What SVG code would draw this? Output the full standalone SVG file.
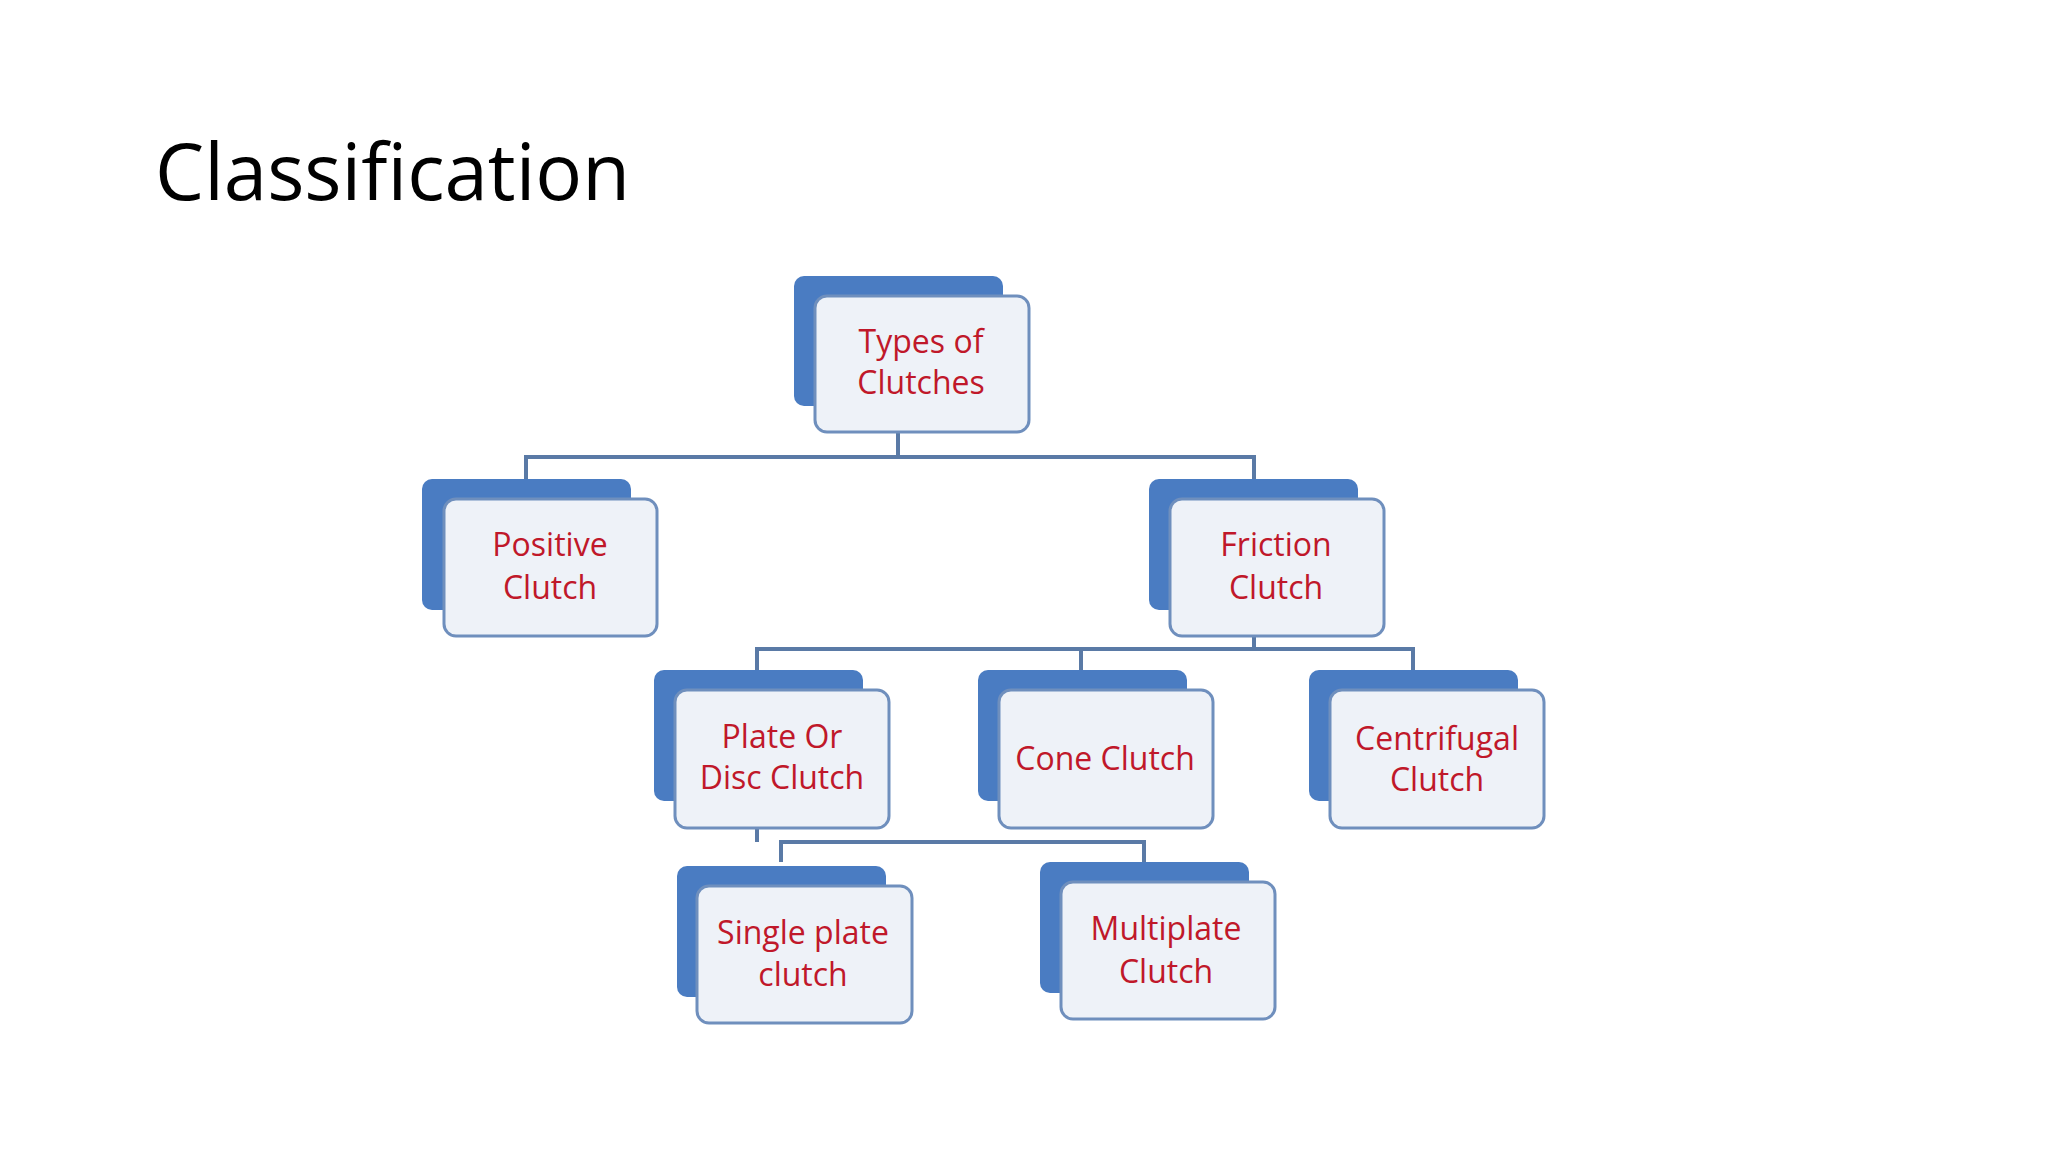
<svg xmlns="http://www.w3.org/2000/svg" width="2048" height="1152" viewBox="0 0 2048 1152">
<style>
.b{fill:#4a7cc2}
.f{fill:#eef2f8;stroke:#6f8fbd;stroke-width:3}
.t{font-family:"Open Sans","Noto Sans",sans-serif;font-size:32px;fill:#c0182a;text-anchor:middle}
.c{fill:none;stroke:#5a7aa6;stroke-width:4}
</style>
<rect width="2048" height="1152" fill="#fff"/>
<text x="155" y="200" font-family="Open Sans,Noto Sans,sans-serif" font-size="78" fill="#000">Classification</text>
<g id="connectors">
<path class="c" d="M898 432V457M526 479V457H1254V479M1254 636V649M757 670V649H1413V670M1081 649V670M757 828V842M781 862V842H1144V862"/>
</g>
<g id="n1"><rect class="b" x="794" y="276" width="209" height="130" rx="10"/><rect class="f" x="815" y="296" width="214" height="136" rx="12"/><text class="t" x="921" y="353">Types of</text><text class="t" x="921" y="394">Clutches</text></g>
<g id="n2"><rect class="b" x="422" y="479" width="209" height="131" rx="10"/><rect class="f" x="444" y="499" width="213" height="137" rx="12"/><text class="t" x="550" y="556">Positive</text><text class="t" x="550" y="599">Clutch</text></g>
<g id="n3"><rect class="b" x="1149" y="479" width="209" height="131" rx="10"/><rect class="f" x="1170" y="499" width="214" height="137" rx="12"/><text class="t" x="1276" y="556">Friction</text><text class="t" x="1276" y="599">Clutch</text></g>
<g id="n4"><rect class="b" x="654" y="670" width="209" height="131" rx="10"/><rect class="f" x="675" y="690" width="214" height="138" rx="12"/><text class="t" x="782" y="748">Plate Or</text><text class="t" x="782" y="789">Disc Clutch</text></g>
<g id="n5"><rect class="b" x="978" y="670" width="209" height="131" rx="10"/><rect class="f" x="999" y="690" width="214" height="138" rx="12"/><text class="t" x="1105" y="770">Cone Clutch</text></g>
<g id="n6"><rect class="b" x="1309" y="670" width="209" height="131" rx="10"/><rect class="f" x="1330" y="690" width="214" height="138" rx="12"/><text class="t" x="1437" y="750">Centrifugal</text><text class="t" x="1437" y="791">Clutch</text></g>
<g id="n7"><rect class="b" x="677" y="866" width="209" height="131" rx="10"/><rect class="f" x="697" y="886" width="215" height="137" rx="12"/><text class="t" x="803" y="944">Single plate</text><text class="t" x="803" y="986">clutch</text></g>
<g id="n8"><rect class="b" x="1040" y="862" width="209" height="131" rx="10"/><rect class="f" x="1061" y="882" width="214" height="137" rx="12"/><text class="t" x="1166" y="940">Multiplate</text><text class="t" x="1166" y="983">Clutch</text></g>
</svg>
